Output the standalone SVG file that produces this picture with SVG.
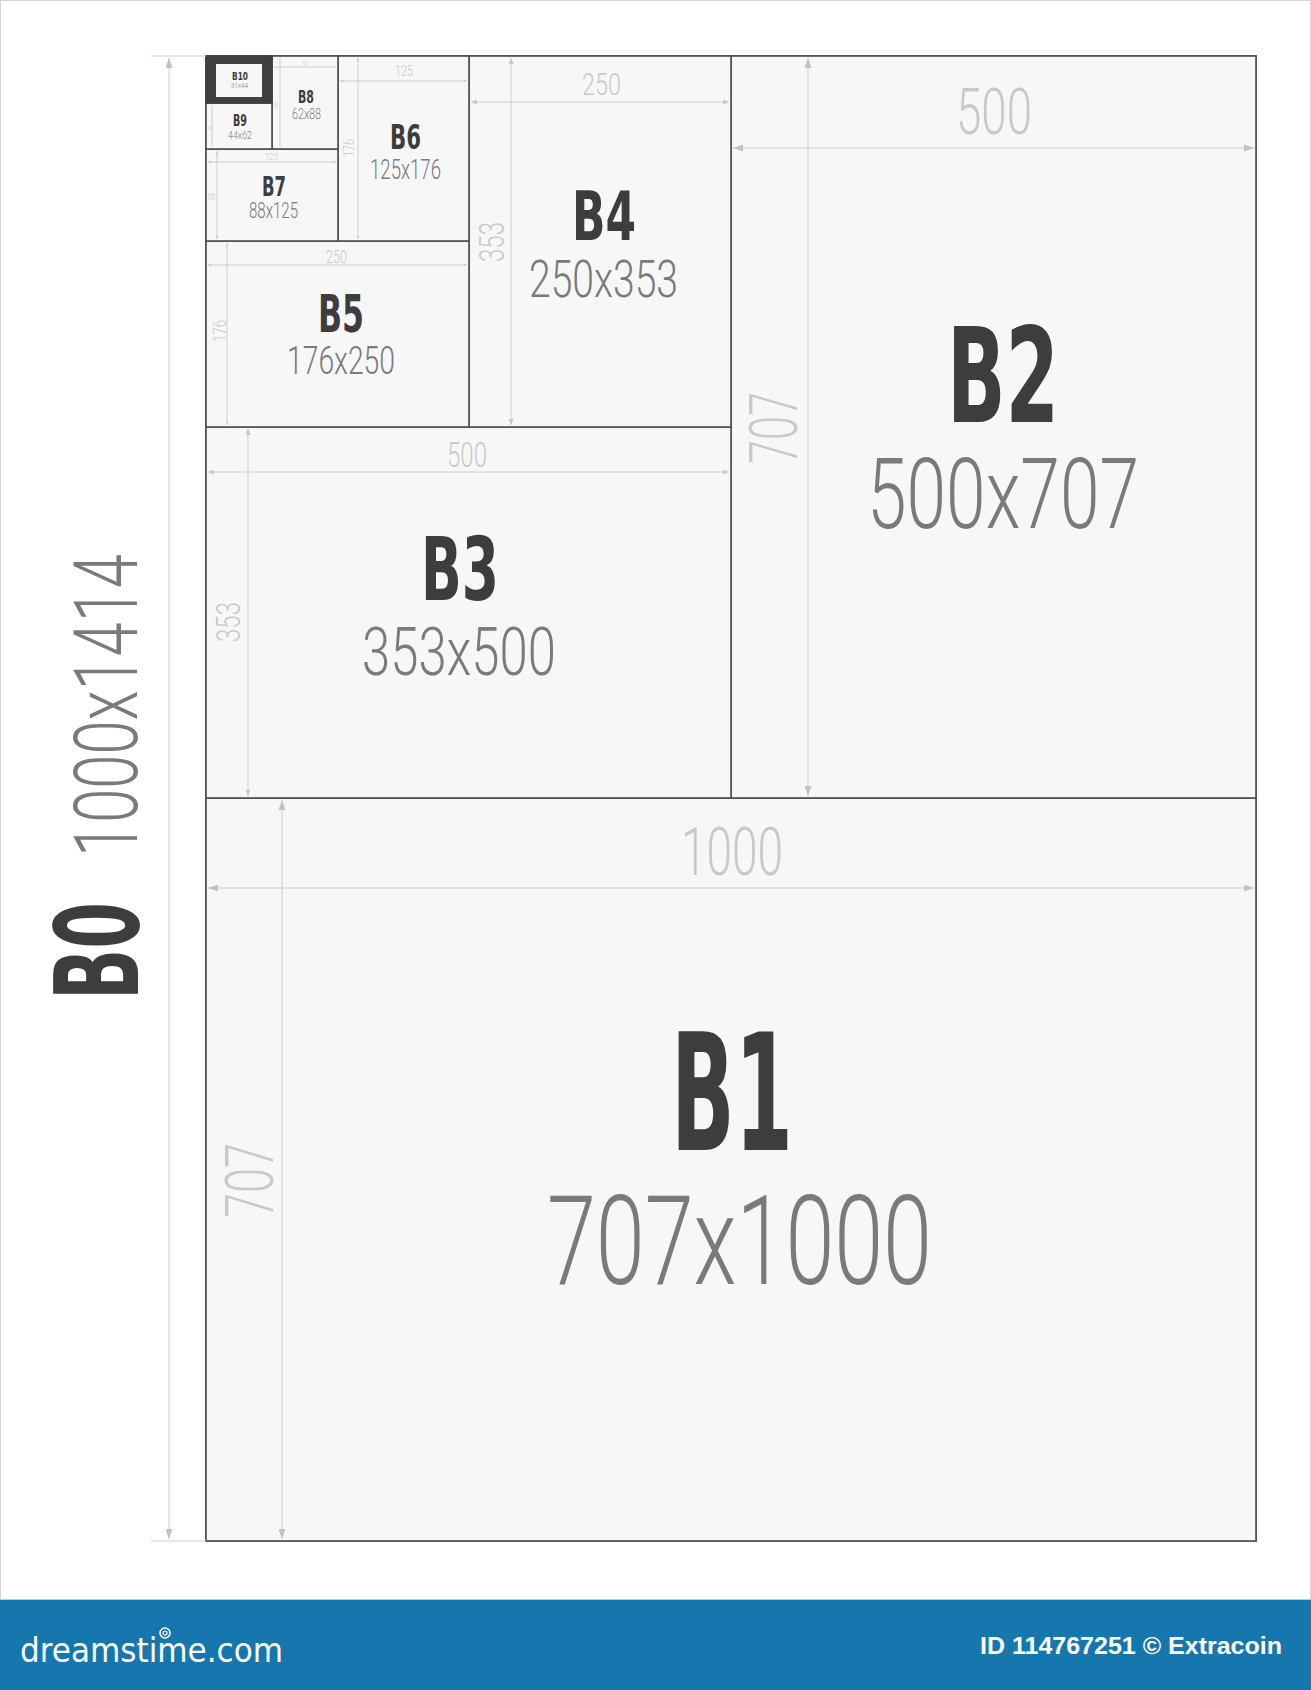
<svg xmlns="http://www.w3.org/2000/svg" width="1311" height="1690" viewBox="0 0 1311 1690">
<defs>
<marker id="arr" markerUnits="userSpaceOnUse" markerWidth="11" markerHeight="7" refX="10" refY="3.5" orient="auto-start-reverse"><path d="M0,0 L10,3.5 L0,7 z" fill="#c2c2c2"/></marker>
<marker id="arrm" markerUnits="userSpaceOnUse" markerWidth="7" markerHeight="5" refX="6" refY="2.5" orient="auto-start-reverse"><path d="M0,0 L6,2.5 L0,5 z" fill="#c8c8c8"/></marker>
<marker id="arrs" markerUnits="userSpaceOnUse" markerWidth="4" markerHeight="3" refX="3.5" refY="1.5" orient="auto-start-reverse"><path d="M0,0 L3.5,1.5 L0,3 z" fill="#cccccc"/></marker>
</defs>
<style>
.sheet{fill:#f7f7f7;stroke:#4e4e4e;stroke-width:1.6}
.name{font-family:"DejaVu Sans Condensed","Liberation Sans Narrow","Liberation Sans",sans-serif;font-weight:700;fill:#3d3d3d}
.size{font-family:Roboto,"Liberation Sans",sans-serif;font-weight:300;fill:#7a7a7a}
.dim{font-family:Roboto,"Liberation Sans",sans-serif;font-weight:300;fill:#c9c9c9}
.dl{stroke:#cdcdcd;stroke-width:1;fill:none}
.big{marker-start:url(#arr);marker-end:url(#arr)}
.mid{marker-start:url(#arrm);marker-end:url(#arrm)}
.sm{marker-start:url(#arrs);marker-end:url(#arrs)}
</style>
<rect x="0" y="0" width="1311" height="1690" fill="#ffffff"/>
<rect x="0.5" y="0.5" width="1310" height="1689" fill="none" stroke="#d4d4d4" stroke-width="1"/>

<g id="B0">
<rect class="sheet" x="206" y="56" width="1050" height="1485"/>
<text class="name" font-size="116" textLength="98" lengthAdjust="spacingAndGlyphs" transform="translate(138,1000) rotate(-90)">B0</text>
<text class="size" font-size="89" textLength="303" lengthAdjust="spacingAndGlyphs" transform="translate(137,857) rotate(-90)">1000x1414</text>
</g>

<g id="B1">
<rect class="sheet" x="206" y="798" width="1050" height="743"/>
<text class="name" x="671" y="1150" font-size="163" textLength="122" lengthAdjust="spacingAndGlyphs">B1</text>
<text class="size" x="547" y="1284" font-size="124" textLength="385" lengthAdjust="spacingAndGlyphs">707x1000</text>
<text class="dim" x="681" y="875" font-size="67" textLength="102" lengthAdjust="spacingAndGlyphs">1000</text>
<text class="dim" font-size="67" textLength="75" lengthAdjust="spacingAndGlyphs" transform="translate(273,1218) rotate(-90)">707</text>
</g>

<g id="B2">
<rect class="sheet" x="731" y="56" width="525" height="742"/>
<text class="name" x="947" y="422" font-size="131" textLength="112" lengthAdjust="spacingAndGlyphs">B2</text>
<text class="size" x="867" y="528" font-size="99" textLength="272" lengthAdjust="spacingAndGlyphs">500x707</text>
<text class="dim" x="956" y="134" font-size="64" textLength="76" lengthAdjust="spacingAndGlyphs">500</text>
<text class="dim" font-size="66" textLength="72" lengthAdjust="spacingAndGlyphs" transform="translate(797,464) rotate(-90)">707</text>
</g>

<g id="B3">
<rect class="sheet" x="206" y="427" width="525" height="371"/>
<text class="name" x="421" y="600" font-size="87" textLength="78" lengthAdjust="spacingAndGlyphs">B3</text>
<text class="size" x="362" y="675" font-size="67" textLength="194" lengthAdjust="spacingAndGlyphs">353x500</text>
<text class="dim" x="447" y="467" font-size="35" textLength="40" lengthAdjust="spacingAndGlyphs">500</text>
<text class="dim" font-size="34" textLength="40" lengthAdjust="spacingAndGlyphs" transform="translate(240,642) rotate(-90)">353</text>
</g>

<g id="B4">
<rect class="sheet" x="469" y="56" width="262" height="371"/>
<text class="name" x="572" y="240" font-size="67" textLength="64" lengthAdjust="spacingAndGlyphs">B4</text>
<text class="size" x="529" y="297" font-size="52" textLength="149" lengthAdjust="spacingAndGlyphs">250x353</text>
<text class="dim" x="582" y="95" font-size="32" textLength="39" lengthAdjust="spacingAndGlyphs">250</text>
<text class="dim" font-size="35" textLength="40" lengthAdjust="spacingAndGlyphs" transform="translate(504,262) rotate(-90)">353</text>
</g>

<g id="B5">
<rect class="sheet" x="206" y="241" width="263" height="186"/>
<text class="name" x="318" y="332" font-size="52" textLength="46" lengthAdjust="spacingAndGlyphs">B5</text>
<text class="size" x="287" y="374" font-size="38" textLength="108" lengthAdjust="spacingAndGlyphs">176x250</text>
<text class="dim" x="326" y="263" font-size="18" textLength="21" lengthAdjust="spacingAndGlyphs">250</text>
<text class="dim" font-size="18" textLength="22" lengthAdjust="spacingAndGlyphs" transform="translate(226,342) rotate(-90)">176</text>
</g>

<g id="B6">
<rect class="sheet" x="338" y="56" width="131" height="185"/>
<text class="name" x="390" y="149" font-size="34" textLength="31" lengthAdjust="spacingAndGlyphs">B6</text>
<text class="size" x="370" y="179" font-size="27" textLength="71" lengthAdjust="spacingAndGlyphs">125x176</text>
<text class="dim" x="395" y="76" font-size="15" textLength="18" lengthAdjust="spacingAndGlyphs">125</text>
<text class="dim" font-size="15" textLength="18" lengthAdjust="spacingAndGlyphs" transform="translate(354,157) rotate(-90)">176</text>
</g>

<g id="B7">
<rect class="sheet" x="206" y="149" width="132" height="92"/>
<text class="name" x="262" y="196" font-size="27" textLength="24" lengthAdjust="spacingAndGlyphs">B7</text>
<text class="size" x="249" y="218" font-size="22" textLength="49" lengthAdjust="spacingAndGlyphs">88x125</text>
<text class="dim" x="265" y="160" font-size="9" textLength="13" lengthAdjust="spacingAndGlyphs">125</text>
<text class="dim" font-size="9" textLength="7" lengthAdjust="spacingAndGlyphs" transform="translate(215,200) rotate(-90)">88</text>
</g>

<g id="B8">
<rect class="sheet" x="272" y="56" width="66" height="93"/>
<text class="name" x="298" y="103" font-size="18" textLength="16" lengthAdjust="spacingAndGlyphs">B8</text>
<text class="size" x="292" y="119" font-size="15" textLength="29" lengthAdjust="spacingAndGlyphs">62x88</text>
<text class="dim" x="302" y="65" font-size="6" textLength="6" lengthAdjust="spacingAndGlyphs">62</text>
<text class="dim" font-size="6" textLength="6" lengthAdjust="spacingAndGlyphs" transform="translate(278,108) rotate(-90)">88</text>
</g>

<g id="B9">
<rect class="sheet" x="206" y="103" width="66" height="46"/>
<text class="name" x="233" y="126" font-size="15" textLength="14" lengthAdjust="spacingAndGlyphs">B9</text>
<text class="size" x="228" y="139" font-size="11" textLength="24" lengthAdjust="spacingAndGlyphs">44x62</text>
<text class="dim" font-size="5" textLength="4" lengthAdjust="spacingAndGlyphs" transform="translate(212,130) rotate(-90)">44</text>
</g>

<g id="B10">
<rect x="206" y="56" width="66" height="47" fill="#3f3f3f" stroke="#3f3f3f" stroke-width="1.6"/>
<rect x="216" y="64" width="46" height="33" fill="#f7f7f7"/>
<text class="name" x="232" y="80" font-size="11" textLength="16" lengthAdjust="spacingAndGlyphs">B10</text>
<text class="size" x="231" y="88" font-size="7" textLength="17" lengthAdjust="spacingAndGlyphs">31x44</text>
</g>

<g id="connectors">
<line class="dl" x1="151" y1="56" x2="206" y2="56"/>
<line class="dl" x1="151" y1="1541" x2="206" y2="1541"/>
<line class="dl big" x1="169" y1="58" x2="169" y2="1539"/>
<line class="dl big" x1="208" y1="888" x2="1254" y2="888"/>
<line class="dl big" x1="282" y1="800" x2="282" y2="1539"/>
<line class="dl big" x1="733" y1="148" x2="1254" y2="148"/>
<line class="dl big" x1="808" y1="58" x2="808" y2="796"/>
<line class="dl mid" x1="208" y1="472" x2="729" y2="472"/>
<line class="dl mid" x1="248" y1="429" x2="248" y2="796"/>
<line class="dl mid" x1="471" y1="102" x2="729" y2="102"/>
<line class="dl mid" x1="511" y1="58" x2="511" y2="425"/>
<line class="dl sm" x1="208" y1="265" x2="467" y2="265"/>
<line class="dl sm" x1="227" y1="243" x2="227" y2="425"/>
<line class="dl sm" x1="340" y1="81" x2="467" y2="81"/>
<line class="dl sm" x1="358" y1="58" x2="358" y2="239"/>
<line class="dl sm" x1="208" y1="162" x2="336" y2="162"/>
<line class="dl sm" x1="217" y1="151" x2="217" y2="239"/>
<line class="dl" x1="274" y1="67" x2="336" y2="67"/>
<line class="dl" x1="280" y1="58" x2="280" y2="147"/>
<line class="dl" x1="212" y1="105" x2="212" y2="147"/>
</g>

<g id="footer">
<rect x="0" y="1600" width="1311" height="90" fill="#1577ae"/>
<line x1="0" y1="1599.5" x2="1311" y2="1599.5" stroke="#c8c8c8" stroke-width="1"/>
<text x="20" y="1662" font-family="'DejaVu Sans','Liberation Sans',sans-serif" font-size="33" fill="#ffffff" textLength="263" lengthAdjust="spacingAndGlyphs">dreamstime.com</text>
<circle cx="165" cy="1633" r="5" fill="none" stroke="#ffffff" stroke-width="1.6"/>
<circle cx="165" cy="1633" r="2" fill="none" stroke="#ffffff" stroke-width="1.2"/>
<text x="980" y="1654" font-family="'Liberation Sans Narrow','Liberation Sans',sans-serif" font-weight="700" font-size="23" fill="#ffffff" textLength="302" lengthAdjust="spacingAndGlyphs">ID 114767251 © Extracoin</text>
</g>
</svg>
